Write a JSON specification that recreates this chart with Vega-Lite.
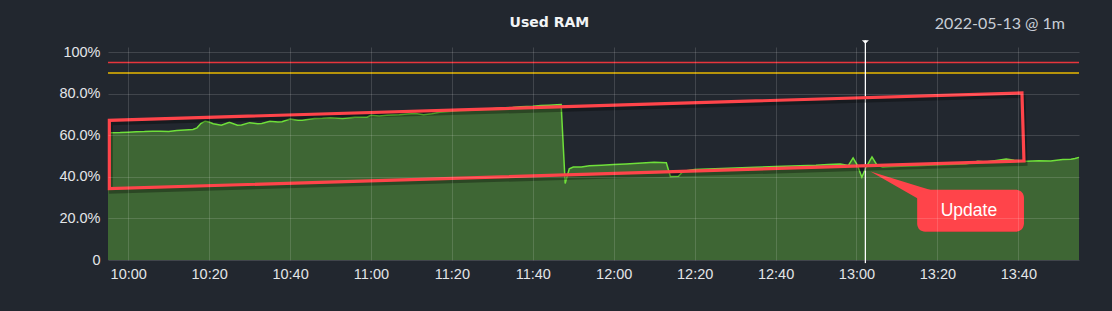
{
  "$schema": "https://vega.github.io/schema/vega-lite/v6.json",
  "autosize": "none",
  "width": 971,
  "height": 213,
  "padding": {"left": 108, "top": 47, "right": 33, "bottom": 51},
  "background": "#22272f",
  "config": {
    "view": {"stroke": null},
    "axis": {
      "labelFont": "Liberation Sans",
      "labelFontSize": 14.5,
      "labelColor": "#e3e5e8",
      "gridColor": "#ffffff",
      "gridOpacity": 0.14,
      "domain": false,
      "ticks": false
    }
  },
  "datasets": {
    "ram": [
      {"t": "2022-05-13T09:55:00", "v": 61.2},
      {"t": "2022-05-13T09:58:00", "v": 61.3},
      {"t": "2022-05-13T10:00:00", "v": 61.5},
      {"t": "2022-05-13T10:02:00", "v": 61.7},
      {"t": "2022-05-13T10:04:00", "v": 61.8},
      {"t": "2022-05-13T10:06:00", "v": 62.0},
      {"t": "2022-05-13T10:08:00", "v": 62.0},
      {"t": "2022-05-13T10:10:00", "v": 61.8},
      {"t": "2022-05-13T10:12:00", "v": 62.3},
      {"t": "2022-05-13T10:14:00", "v": 62.6},
      {"t": "2022-05-13T10:16:00", "v": 62.8},
      {"t": "2022-05-13T10:17:00", "v": 63.6},
      {"t": "2022-05-13T10:18:00", "v": 65.8},
      {"t": "2022-05-13T10:19:00", "v": 66.8},
      {"t": "2022-05-13T10:20:00", "v": 66.4},
      {"t": "2022-05-13T10:21:00", "v": 65.6},
      {"t": "2022-05-13T10:23:00", "v": 64.9},
      {"t": "2022-05-13T10:25:00", "v": 66.3},
      {"t": "2022-05-13T10:27:00", "v": 64.9},
      {"t": "2022-05-13T10:28:00", "v": 65.0},
      {"t": "2022-05-13T10:30:00", "v": 66.1},
      {"t": "2022-05-13T10:32:00", "v": 65.6},
      {"t": "2022-05-13T10:33:00", "v": 65.7},
      {"t": "2022-05-13T10:35:00", "v": 66.8},
      {"t": "2022-05-13T10:37:00", "v": 66.4},
      {"t": "2022-05-13T10:38:00", "v": 66.5},
      {"t": "2022-05-13T10:40:00", "v": 67.8},
      {"t": "2022-05-13T10:42:00", "v": 67.3},
      {"t": "2022-05-13T10:43:00", "v": 67.3},
      {"t": "2022-05-13T10:46:00", "v": 68.1},
      {"t": "2022-05-13T10:48:00", "v": 68.2},
      {"t": "2022-05-13T10:50:00", "v": 68.4},
      {"t": "2022-05-13T10:53:00", "v": 68.1},
      {"t": "2022-05-13T10:56:00", "v": 68.7},
      {"t": "2022-05-13T10:59:00", "v": 68.7},
      {"t": "2022-05-13T11:00:00", "v": 69.6},
      {"t": "2022-05-13T11:02:00", "v": 69.3},
      {"t": "2022-05-13T11:04:00", "v": 69.6},
      {"t": "2022-05-13T11:07:00", "v": 69.9},
      {"t": "2022-05-13T11:09:00", "v": 70.2},
      {"t": "2022-05-13T11:11:00", "v": 70.5},
      {"t": "2022-05-13T11:13:00", "v": 69.9},
      {"t": "2022-05-13T11:15:00", "v": 70.4},
      {"t": "2022-05-13T11:17:00", "v": 71.1},
      {"t": "2022-05-13T11:20:00", "v": 71.6},
      {"t": "2022-05-13T11:22:00", "v": 71.9},
      {"t": "2022-05-13T11:25:00", "v": 72.1},
      {"t": "2022-05-13T11:27:00", "v": 72.4},
      {"t": "2022-05-13T11:30:00", "v": 72.8},
      {"t": "2022-05-13T11:32:00", "v": 73.1},
      {"t": "2022-05-13T11:35:00", "v": 73.4},
      {"t": "2022-05-13T11:37:00", "v": 73.7},
      {"t": "2022-05-13T11:40:00", "v": 74.0},
      {"t": "2022-05-13T11:42:00", "v": 74.3},
      {"t": "2022-05-13T11:44:00", "v": 74.5},
      {"t": "2022-05-13T11:46:00", "v": 74.7},
      {"t": "2022-05-13T11:47:00", "v": 74.8},
      {"t": "2022-05-13T11:48:00", "v": 36.8},
      {"t": "2022-05-13T11:49:00", "v": 43.9},
      {"t": "2022-05-13T11:50:00", "v": 44.7},
      {"t": "2022-05-13T11:52:00", "v": 44.8},
      {"t": "2022-05-13T11:54:00", "v": 45.3},
      {"t": "2022-05-13T11:57:00", "v": 45.6},
      {"t": "2022-05-13T12:00:00", "v": 46.0},
      {"t": "2022-05-13T12:03:00", "v": 46.2},
      {"t": "2022-05-13T12:05:00", "v": 46.4},
      {"t": "2022-05-13T12:08:00", "v": 46.8},
      {"t": "2022-05-13T12:10:00", "v": 47.0},
      {"t": "2022-05-13T12:13:00", "v": 46.8},
      {"t": "2022-05-13T12:14:00", "v": 40.2},
      {"t": "2022-05-13T12:16:00", "v": 40.3},
      {"t": "2022-05-13T12:17:00", "v": 42.3},
      {"t": "2022-05-13T12:18:00", "v": 43.0},
      {"t": "2022-05-13T12:20:00", "v": 43.5},
      {"t": "2022-05-13T12:25:00", "v": 43.9},
      {"t": "2022-05-13T12:30:00", "v": 44.3},
      {"t": "2022-05-13T12:35:00", "v": 44.6},
      {"t": "2022-05-13T12:40:00", "v": 45.0},
      {"t": "2022-05-13T12:46:00", "v": 45.4},
      {"t": "2022-05-13T12:50:00", "v": 45.6},
      {"t": "2022-05-13T12:53:00", "v": 45.9},
      {"t": "2022-05-13T12:56:00", "v": 46.2},
      {"t": "2022-05-13T12:58:00", "v": 45.5},
      {"t": "2022-05-13T12:59:10", "v": 49.1},
      {"t": "2022-05-13T13:00:10", "v": 45.8},
      {"t": "2022-05-13T13:01:20", "v": 39.8},
      {"t": "2022-05-13T13:02:20", "v": 44.5},
      {"t": "2022-05-13T13:03:50", "v": 49.6},
      {"t": "2022-05-13T13:05:00", "v": 45.9},
      {"t": "2022-05-13T13:06:30", "v": 44.6},
      {"t": "2022-05-13T13:08:00", "v": 44.9},
      {"t": "2022-05-13T13:11:00", "v": 45.1},
      {"t": "2022-05-13T13:15:00", "v": 45.4},
      {"t": "2022-05-13T13:19:00", "v": 45.7},
      {"t": "2022-05-13T13:23:00", "v": 45.9},
      {"t": "2022-05-13T13:27:00", "v": 46.2},
      {"t": "2022-05-13T13:30:00", "v": 47.5},
      {"t": "2022-05-13T13:32:00", "v": 47.2},
      {"t": "2022-05-13T13:35:00", "v": 48.0},
      {"t": "2022-05-13T13:37:00", "v": 48.6},
      {"t": "2022-05-13T13:39:00", "v": 48.0},
      {"t": "2022-05-13T13:42:00", "v": 47.5},
      {"t": "2022-05-13T13:45:00", "v": 47.8},
      {"t": "2022-05-13T13:48:00", "v": 47.7},
      {"t": "2022-05-13T13:51:00", "v": 48.4},
      {"t": "2022-05-13T13:53:00", "v": 48.5},
      {"t": "2022-05-13T13:54:00", "v": 48.8},
      {"t": "2022-05-13T13:55:00", "v": 49.4}
    ],
    "thresholds": [
      {"v": 95, "level": "crit"},
      {"v": 90, "level": "warn"}
    ],
    "marker": [
      {"t": "2022-05-13T13:02:12", "v": 105.7, "v2": -1.5, "tri": 104.9}
    ],
    "frame": [
      {"t": "2022-05-13T09:55:20", "v": 50.75, "o": 1},
      {"t": "2022-05-13T09:55:20", "v": 67.2, "o": 2},
      {"t": "2022-05-13T13:40:54", "v": 80.4, "o": 3},
      {"t": "2022-05-13T13:41:24", "v": 47.7, "o": 4},
      {"t": "2022-05-13T09:55:20", "v": 34.3, "o": 5},
      {"t": "2022-05-13T09:55:20", "v": 50.75, "o": 6}
    ],
    "pointer": [
      {"t": "2022-05-13T13:03:28", "v": 42.6, "v2": 42.6},
      {"t": "2022-05-13T13:15:40", "v": 35.2, "v2": 29.0},
      {"t": "2022-05-13T13:20:38", "v": 32.4, "v2": 32.4}
    ],
    "callout": [
      {"t": "2022-05-13T13:15:00", "t2": "2022-05-13T13:41:24", "v": 33.8, "v2": 13.6}
    ],
    "calloutText": [
      {"t": "2022-05-13T13:27:48", "v": 21.0, "label": "Update"}
    ],
    "titleText": [
      {"t": "2022-05-13T11:44:06", "v": 112.0, "label": "Used RAM"}
    ],
    "dateText": [
      {"t": "2022-05-13T13:51:32", "v": 111.1, "label": "2022-05-13 @ 1m"}
    ]
  },
  "layer": [
    {
      "data": {"name": "ram", "format": {"parse": {"t": "date"}}},
      "mark": {"type": "area", "color": "#3e6634"},
      "encoding": {
        "x": {
          "field": "t", "type": "temporal", "title": null,
          "scale": {"nice": false},
          "axis": {
            "title": null, "format": "%H:%M",
            "values": [
              {"year": 2022, "month": 5, "date": 13, "hours": 10, "minutes": 0},
              {"year": 2022, "month": 5, "date": 13, "hours": 10, "minutes": 20},
              {"year": 2022, "month": 5, "date": 13, "hours": 10, "minutes": 40},
              {"year": 2022, "month": 5, "date": 13, "hours": 11, "minutes": 0},
              {"year": 2022, "month": 5, "date": 13, "hours": 11, "minutes": 20},
              {"year": 2022, "month": 5, "date": 13, "hours": 11, "minutes": 40},
              {"year": 2022, "month": 5, "date": 13, "hours": 12, "minutes": 0},
              {"year": 2022, "month": 5, "date": 13, "hours": 12, "minutes": 20},
              {"year": 2022, "month": 5, "date": 13, "hours": 12, "minutes": 40},
              {"year": 2022, "month": 5, "date": 13, "hours": 13, "minutes": 0},
              {"year": 2022, "month": 5, "date": 13, "hours": 13, "minutes": 20},
              {"year": 2022, "month": 5, "date": 13, "hours": 13, "minutes": 40}
            ],
            "grid": true, "labelPadding": 7, "zindex": 1,
            "labelFlush": false
          }
        },
        "y": {
          "field": "v", "type": "quantitative", "title": null,
          "scale": {"domain": [0, 102.5], "nice": false},
          "axis": {
            "title": null, "values": [0, 20, 40, 60, 80, 100],
            "labelExpr": "datum.value == 0 ? '0' : datum.value == 100 ? '100%' : format(datum.value, '.1f') + '%'",
            "grid": true, "labelPadding": 8, "zindex": 1
          }
        }
      }
    },
    {
      "data": {"name": "ram", "format": {"parse": {"t": "date"}}},
      "mark": {"type": "line", "color": "#6fe03a", "strokeWidth": 1.5},
      "encoding": {
        "x": {"field": "t", "type": "temporal", "title": null},
        "y": {"field": "v", "type": "quantitative", "title": null}
      }
    },
    {
      "data": {"name": "thresholds"},
      "mark": {"type": "rule", "strokeWidth": 1.5},
      "encoding": {
        "y": {"field": "v", "type": "quantitative", "title": null},
        "color": {"field": "level", "type": "nominal", "legend": null,
          "scale": {"domain": ["crit", "warn"], "range": ["#e8353c", "#e8b800"]}}
      }
    },
    {
      "data": {"name": "marker", "format": {"parse": {"t": "date"}}},
      "mark": {"type": "rule", "color": "#ffffff", "strokeWidth": 1.3},
      "encoding": {
        "x": {"field": "t", "type": "temporal", "title": null},
        "y": {"field": "v", "type": "quantitative", "title": null},
        "y2": {"field": "v2"}
      }
    },
    {
      "data": {"name": "marker", "format": {"parse": {"t": "date"}}},
      "mark": {"type": "point", "shape": "M-1,-0.5L1,-0.5L0,0.5Z", "filled": true, "color": "#ffffff", "opacity": 1, "size": 49},
      "encoding": {
        "x": {"field": "t", "type": "temporal", "title": null},
        "y": {"field": "tri", "type": "quantitative", "title": null}
      }
    },
    {
      "data": {"name": "frame", "format": {"parse": {"t": "date"}}},
      "mark": {"type": "line", "color": "#000000", "opacity": 0.3, "strokeWidth": 4, "xOffset": 1.5, "yOffset": 3, "strokeJoin": "miter"},
      "encoding": {
        "x": {"field": "t", "type": "temporal", "title": null},
        "y": {"field": "v", "type": "quantitative", "title": null},
        "order": {"field": "o", "type": "quantitative"}
      }
    },
    {
      "data": {"name": "frame", "format": {"parse": {"t": "date"}}},
      "mark": {"type": "line", "color": "#ff444a", "strokeWidth": 3.2, "strokeJoin": "miter"},
      "encoding": {
        "x": {"field": "t", "type": "temporal", "title": null},
        "y": {"field": "v", "type": "quantitative", "title": null},
        "order": {"field": "o", "type": "quantitative"}
      }
    },
    {
      "data": {"name": "callout", "format": {"parse": {"t": "date", "t2": "date"}}},
      "mark": {"type": "rect", "color": "#000000", "opacity": 0.3, "cornerRadius": 8, "xOffset": 2, "yOffset": 3},
      "encoding": {
        "x": {"field": "t", "type": "temporal", "title": null},
        "x2": {"field": "t2"},
        "y": {"field": "v", "type": "quantitative", "title": null},
        "y2": {"field": "v2"}
      }
    },
    {
      "data": {"name": "pointer", "format": {"parse": {"t": "date"}}},
      "mark": {"type": "area", "color": "#ff444a"},
      "encoding": {
        "x": {"field": "t", "type": "temporal", "title": null},
        "y": {"field": "v", "type": "quantitative", "title": null},
        "y2": {"field": "v2"}
      }
    },
    {
      "data": {"name": "callout", "format": {"parse": {"t": "date", "t2": "date"}}},
      "mark": {"type": "rect", "color": "#ff444a", "cornerRadius": 8},
      "encoding": {
        "x": {"field": "t", "type": "temporal", "title": null},
        "x2": {"field": "t2"},
        "y": {"field": "v", "type": "quantitative", "title": null},
        "y2": {"field": "v2"}
      }
    },
    {
      "data": {"name": "calloutText", "format": {"parse": {"t": "date"}}},
      "mark": {"type": "text", "color": "#ffffff", "font": "Liberation Sans", "fontSize": 17.5, "align": "center", "baseline": "alphabetic"},
      "encoding": {
        "x": {"field": "t", "type": "temporal", "title": null},
        "y": {"field": "v", "type": "quantitative", "title": null},
        "text": {"field": "label"}
      }
    },
    {
      "data": {"name": "titleText", "format": {"parse": {"t": "date"}}},
      "mark": {"type": "text", "color": "#f2f4f6", "font": "DejaVu Sans", "fontWeight": "bold", "fontSize": 14, "align": "center", "baseline": "alphabetic"},
      "encoding": {
        "x": {"field": "t", "type": "temporal", "title": null},
        "y": {"field": "v", "type": "quantitative", "title": null},
        "text": {"field": "label"}
      }
    },
    {
      "data": {"name": "dateText", "format": {"parse": {"t": "date"}}},
      "mark": {"type": "text", "color": "#c8ced6", "font": "Lato", "fontSize": 16, "align": "right", "baseline": "alphabetic"},
      "encoding": {
        "x": {"field": "t", "type": "temporal", "title": null},
        "y": {"field": "v", "type": "quantitative", "title": null},
        "text": {"field": "label"}
      }
    }
  ]
}
